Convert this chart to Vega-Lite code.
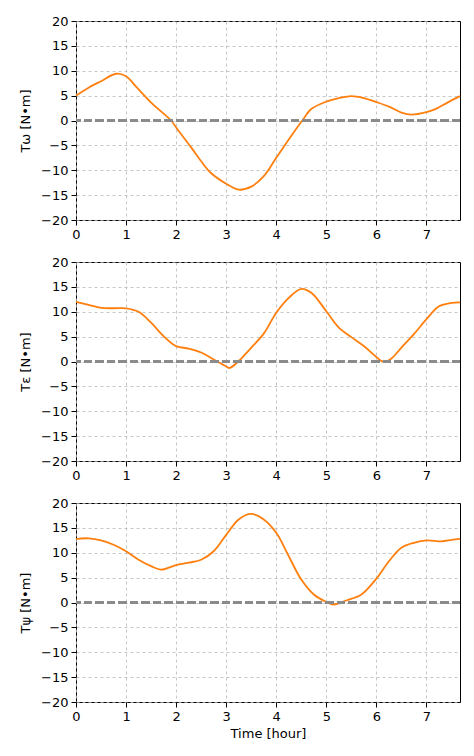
{
  "$schema": "https://vega.github.io/schema/vega-lite/v6.json",
  "padding": {"left": 19, "top": 14, "right": 5, "bottom": 5},
  "bounds": "flush",
  "spacing": 42,
  "config": {
    "font": "DejaVu Sans",
    "view": {"stroke": "black", "strokeWidth": 1},
    "axis": {
      "domain": false,
      "tickColor": "black",
      "tickSize": 5,
      "labelColor": "black",
      "labelFontSize": 13,
      "labelFont": "DejaVu Sans",
      "labelOverlap": false,
      "labelFlush": false,
      "labelExpr": "replace(datum.label, '-', '−')",
      "titleFont": "DejaVu Sans",
      "titleFontSize": 13,
      "titleFontWeight": "normal",
      "titleColor": "black",
      "grid": true,
      "gridColor": "#b8b8b8",
      "gridDash": [3, 3],
      "gridWidth": 0.8,
      "labelPadding": 3
    }
  },
  "datasets": {
    "torque": [
      {"p": "w", "t": 0, "v": 5.0}, {"p": "w", "t": 0.25, "v": 6.6}, {"p": "w", "t": 0.5, "v": 7.9}, {"p": "w", "t": 0.8, "v": 9.4}, {"p": "w", "t": 1.0, "v": 8.9}, {"p": "w", "t": 1.2, "v": 6.8}, {"p": "w", "t": 1.5, "v": 3.6}, {"p": "w", "t": 1.9, "v": 0.0}, {"p": "w", "t": 2.0, "v": -1.4}, {"p": "w", "t": 2.3, "v": -5.4}, {"p": "w", "t": 2.5, "v": -8.2}, {"p": "w", "t": 2.7, "v": -10.6}, {"p": "w", "t": 3.0, "v": -12.7}, {"p": "w", "t": 3.25, "v": -13.9}, {"p": "w", "t": 3.5, "v": -13.3}, {"p": "w", "t": 3.75, "v": -11.2}, {"p": "w", "t": 4.0, "v": -7.5}, {"p": "w", "t": 4.25, "v": -3.8}, {"p": "w", "t": 4.52, "v": 0.0}, {"p": "w", "t": 4.7, "v": 2.3}, {"p": "w", "t": 5.0, "v": 3.8}, {"p": "w", "t": 5.25, "v": 4.5}, {"p": "w", "t": 5.5, "v": 4.9}, {"p": "w", "t": 5.75, "v": 4.5}, {"p": "w", "t": 6.0, "v": 3.7}, {"p": "w", "t": 6.25, "v": 2.8}, {"p": "w", "t": 6.5, "v": 1.6}, {"p": "w", "t": 6.7, "v": 1.2}, {"p": "w", "t": 7.0, "v": 1.7}, {"p": "w", "t": 7.2, "v": 2.4}, {"p": "w", "t": 7.4, "v": 3.5}, {"p": "w", "t": 7.67, "v": 4.9},
      {"p": "e", "t": 0, "v": 12.0}, {"p": "e", "t": 0.25, "v": 11.4}, {"p": "e", "t": 0.5, "v": 10.8}, {"p": "e", "t": 0.75, "v": 10.7}, {"p": "e", "t": 1.0, "v": 10.7}, {"p": "e", "t": 1.25, "v": 10.0}, {"p": "e", "t": 1.5, "v": 7.8}, {"p": "e", "t": 1.75, "v": 5.1}, {"p": "e", "t": 2.0, "v": 3.1}, {"p": "e", "t": 2.25, "v": 2.6}, {"p": "e", "t": 2.5, "v": 1.8}, {"p": "e", "t": 2.75, "v": 0.4}, {"p": "e", "t": 3.0, "v": -1.0}, {"p": "e", "t": 3.07, "v": -1.3}, {"p": "e", "t": 3.25, "v": 0.1}, {"p": "e", "t": 3.5, "v": 2.8}, {"p": "e", "t": 3.75, "v": 5.6}, {"p": "e", "t": 4.0, "v": 9.8}, {"p": "e", "t": 4.25, "v": 12.8}, {"p": "e", "t": 4.5, "v": 14.6}, {"p": "e", "t": 4.7, "v": 13.8}, {"p": "e", "t": 5.0, "v": 10.1}, {"p": "e", "t": 5.25, "v": 6.8}, {"p": "e", "t": 5.5, "v": 4.9}, {"p": "e", "t": 5.75, "v": 3.1}, {"p": "e", "t": 6.0, "v": 0.9}, {"p": "e", "t": 6.15, "v": -0.1}, {"p": "e", "t": 6.3, "v": 0.6}, {"p": "e", "t": 6.5, "v": 2.8}, {"p": "e", "t": 6.75, "v": 5.5}, {"p": "e", "t": 7.0, "v": 8.5}, {"p": "e", "t": 7.25, "v": 11.1}, {"p": "e", "t": 7.5, "v": 11.8}, {"p": "e", "t": 7.67, "v": 11.9},
      {"p": "s", "t": 0, "v": 12.8}, {"p": "s", "t": 0.25, "v": 12.9}, {"p": "s", "t": 0.5, "v": 12.5}, {"p": "s", "t": 0.75, "v": 11.6}, {"p": "s", "t": 1.0, "v": 10.3}, {"p": "s", "t": 1.25, "v": 8.6}, {"p": "s", "t": 1.5, "v": 7.3}, {"p": "s", "t": 1.7, "v": 6.6}, {"p": "s", "t": 2.0, "v": 7.5}, {"p": "s", "t": 2.25, "v": 8.0}, {"p": "s", "t": 2.5, "v": 8.6}, {"p": "s", "t": 2.75, "v": 10.3}, {"p": "s", "t": 3.0, "v": 13.6}, {"p": "s", "t": 3.25, "v": 16.7}, {"p": "s", "t": 3.5, "v": 17.8}, {"p": "s", "t": 3.75, "v": 16.7}, {"p": "s", "t": 4.0, "v": 14.0}, {"p": "s", "t": 4.25, "v": 9.3}, {"p": "s", "t": 4.5, "v": 4.6}, {"p": "s", "t": 4.75, "v": 1.6}, {"p": "s", "t": 5.0, "v": 0.1}, {"p": "s", "t": 5.15, "v": -0.4}, {"p": "s", "t": 5.4, "v": 0.4}, {"p": "s", "t": 5.7, "v": 1.6}, {"p": "s", "t": 6.0, "v": 4.8}, {"p": "s", "t": 6.25, "v": 8.3}, {"p": "s", "t": 6.5, "v": 11.0}, {"p": "s", "t": 6.75, "v": 12.0}, {"p": "s", "t": 7.0, "v": 12.5}, {"p": "s", "t": 7.3, "v": 12.3}, {"p": "s", "t": 7.5, "v": 12.6}, {"p": "s", "t": 7.67, "v": 12.8}
    ]
  },
  "vconcat": [
    {
      "width": 384, "height": 199,
      "data": {"name": "torque"},
      "transform": [{"filter": "datum.p === 'w'"}],
      "layer": [
        {"mark": {"type": "line", "color": "#ff7f0e", "strokeWidth": 1.8, "interpolate": "catmull-rom"},
         "encoding": {
          "x": {"field": "t", "type": "quantitative", "scale": {"domain": [0, 7.67], "nice": false, "zero": false}, "axis": {"values": [0,1,2,3,4,5,6,7], "title": null}},
          "y": {"field": "v", "type": "quantitative", "scale": {"domain": [-20, 20], "nice": false}, "axis": {"values": [-20,-15,-10,-5,0,5,10,15,20], "title": "Tω  [N•m]", "titlePadding": 8}}
        }},
        {"mark": {"type": "rule", "color": "#8a8a8a", "strokeWidth": 1.5, "strokeDash": [8, 3.5]}, "encoding": {"y": {"datum": 0, "type": "quantitative", "axis": {"values": [-20,-15,-10,-5,0,5,10,15,20], "title": "Tω  [N•m]", "titlePadding": 8}}}}
      ]
    },
    {
      "width": 384, "height": 199,
      "data": {"name": "torque"},
      "transform": [{"filter": "datum.p === 'e'"}],
      "layer": [
        {"mark": {"type": "line", "color": "#ff7f0e", "strokeWidth": 1.8, "interpolate": "catmull-rom"},
         "encoding": {
          "x": {"field": "t", "type": "quantitative", "scale": {"domain": [0, 7.67], "nice": false, "zero": false}, "axis": {"values": [0,1,2,3,4,5,6,7], "title": null}},
          "y": {"field": "v", "type": "quantitative", "scale": {"domain": [-20, 20], "nice": false}, "axis": {"values": [-20,-15,-10,-5,0,5,10,15,20], "title": "Tε  [N•m]", "titlePadding": 8}}
        }},
        {"mark": {"type": "rule", "color": "#8a8a8a", "strokeWidth": 1.5, "strokeDash": [8, 3.5]}, "encoding": {"y": {"datum": 0, "type": "quantitative", "axis": {"values": [-20,-15,-10,-5,0,5,10,15,20], "title": "Tε  [N•m]", "titlePadding": 8}}}}
      ]
    },
    {
      "width": 384, "height": 199,
      "data": {"name": "torque"},
      "transform": [{"filter": "datum.p === 's'"}],
      "layer": [
        {"mark": {"type": "line", "color": "#ff7f0e", "strokeWidth": 1.8, "interpolate": "catmull-rom"},
         "encoding": {
          "x": {"field": "t", "type": "quantitative", "scale": {"domain": [0, 7.67], "nice": false, "zero": false}, "axis": {"values": [0,1,2,3,4,5,6,7], "title": "Time [hour]", "titlePadding": 4}},
          "y": {"field": "v", "type": "quantitative", "scale": {"domain": [-20, 20], "nice": false}, "axis": {"values": [-20,-15,-10,-5,0,5,10,15,20], "title": "Tψ  [N•m]", "titlePadding": 8}}
        }},
        {"mark": {"type": "rule", "color": "#8a8a8a", "strokeWidth": 1.5, "strokeDash": [8, 3.5]}, "encoding": {"y": {"datum": 0, "type": "quantitative", "axis": {"values": [-20,-15,-10,-5,0,5,10,15,20], "title": "Tψ  [N•m]", "titlePadding": 8}}}}
      ]
    }
  ]
}
